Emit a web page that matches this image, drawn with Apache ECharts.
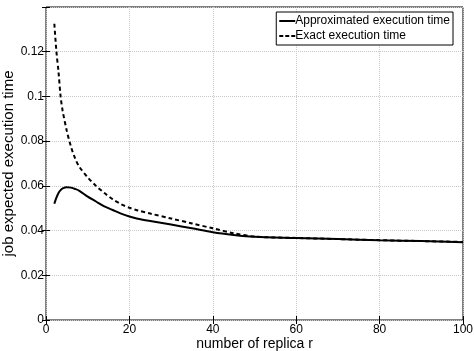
<!DOCTYPE html>
<html>
<head>
<meta charset="utf-8">
<script src="https://cdn.jsdelivr.net/npm/echarts@6/dist/echarts.min.js"></script>
<style>
  html, body { margin: 0; padding: 0; background: #fff; }
  #chart { width: 474px; height: 351px; }
</style>
</head>
<body>
<div id="chart"></div>
<script>
  // values
  const replicas = [2, 2.5, 3, 3.5, 4, 5, 6, 7, 8, 10, 12, 14, 16, 18, 20, 22, 25, 30, 35, 40, 45, 50, 60, 70, 80, 90, 100];
  const approxTime = [0.052, 0.0547, 0.0568, 0.0581, 0.0589, 0.0594, 0.0592, 0.0586, 0.0578, 0.0552, 0.053, 0.0508, 0.0492, 0.0476, 0.0463, 0.0453, 0.0443, 0.0427, 0.041, 0.0392, 0.038, 0.0372, 0.0367, 0.0362, 0.0357, 0.0353, 0.0348];
  const exactTime = [0.1325, 0.12, 0.111, 0.1, 0.0935, 0.0845, 0.0775, 0.0722, 0.0685, 0.0638, 0.06, 0.0568, 0.054, 0.0518, 0.0502, 0.049, 0.0476, 0.0454, 0.0432, 0.041, 0.0388, 0.0373, 0.0367, 0.0362, 0.0357, 0.0353, 0.0349];
  const seriesNames = ['Approximated execution time', 'Exact execution time'];
  const xLabel = 'number of replica r';
  const yLabel = 'job expected execution time';

  const font = 'Liberation Sans, Arial, sans-serif';
  const chart = echarts.init(document.getElementById('chart'));

  const pairs = (ys) => replicas.map((r, i) => [r, ys[i]]);

  const gridLine = { show: true, lineStyle: { color: '#c8c8c8', type: 'dotted', width: 1 } };

  // legend sample lines: solid and three dashes
  const solidIcon = 'path://M0,0 L16,0 L16,2 L0,2 Z';
  const dashIcon = 'path://M0,0 L4,0 L4,2 L0,2 Z M6,0 L10,0 L10,2 L6,2 Z M12,0 L16,0 L16,2 L12,2 Z';

  chart.setOption({
    animation: false,
    backgroundColor: '#fff',
    textStyle: { fontFamily: font },
    grid: {
      left: 46, right: 11, top: 7, bottom: 31,
      outerBoundsMode: 'none',
      containLabel: false,
      show: true, borderColor: '#000', borderWidth: 1
    },
    legend: {
      orient: 'vertical',
      top: 12,
      right: 21,
      itemGap: 3,
      itemWidth: 16,
      itemHeight: 2,
      padding: [3, 3, 3, 3],
      borderColor: '#000',
      borderWidth: 1,
      backgroundColor: '#fff',
      textStyle: { fontSize: 12, color: '#000', padding: [0, 0, 0, -5] },
      data: [
        { name: seriesNames[0], icon: solidIcon, itemStyle: { color: '#000' } },
        { name: seriesNames[1], icon: dashIcon, itemStyle: { color: '#000' } }
      ]
    },
    xAxis: [
      {
        type: 'value',
        min: 0,
        max: 100,
        interval: 20,
        name: xLabel,
        nameLocation: 'middle',
        nameGap: 17,
        nameMoveOverlap: false,
        nameTextStyle: { fontSize: 14, color: '#000' },
        axisLine: { show: false },
        axisTick: { inside: true, length: 4, lineStyle: { color: '#000' } },
        axisLabel: { fontSize: 12, color: '#000', margin: 4 },
        splitLine: gridLine
      },
      {
        type: 'value',
        position: 'top',
        min: 0,
        max: 100,
        interval: 20,
        axisLine: { show: false },
        axisTick: { inside: true, length: 4, lineStyle: { color: '#000' } },
        axisLabel: { show: false },
        splitLine: { show: false }
      }
    ],
    yAxis: [
      {
        type: 'value',
        min: 0,
        max: 0.14,
        interval: 0.02,
        name: yLabel,
        nameLocation: 'middle',
        nameGap: 30,
        nameMoveOverlap: false,
        nameTextStyle: { fontSize: 15, color: '#000' },
        axisLine: { show: false },
        axisTick: { inside: true, length: 4, lineStyle: { color: '#000' } },
        axisLabel: {
          fontSize: 12,
          color: '#000',
          margin: 2,
          formatter: (v) => (v >= 0.139 ? '' : String(+v.toFixed(2)))
        },
        splitLine: gridLine
      },
      {
        type: 'value',
        position: 'right',
        min: 0,
        max: 0.14,
        interval: 0.02,
        axisLine: { show: false },
        axisTick: { inside: true, length: 4, lineStyle: { color: '#000' } },
        axisLabel: { show: false },
        splitLine: { show: false }
      }
    ],
    series: [
      {
        name: seriesNames[0],
        type: 'line',
        data: pairs(approxTime),
        smooth: 0.3,
        symbol: 'none',
        lineStyle: { color: '#000', width: 2 },
        itemStyle: { color: '#000' }
      },
      {
        name: seriesNames[1],
        type: 'line',
        data: pairs(exactTime),
        smooth: 0.3,
        symbol: 'none',
        lineStyle: { color: '#000', width: 2, type: [4, 3] },
        itemStyle: { color: '#000' }
      }
    ]
  });
</script>
</body>
</html>
